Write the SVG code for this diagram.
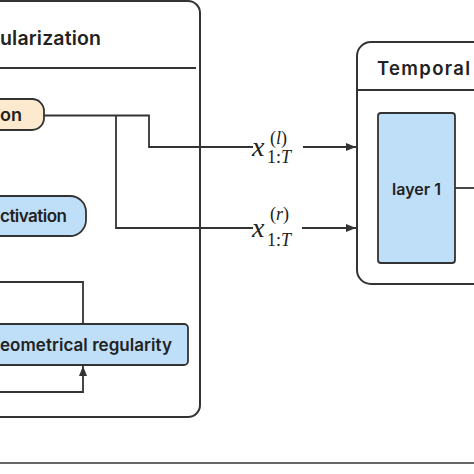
<svg xmlns="http://www.w3.org/2000/svg" width="474" height="474" viewBox="0 0 474 474">
<style>
.frame{fill:#fff;stroke:#333;stroke-width:2}
.div{stroke:#333;stroke-width:2;fill:none}
.orange{fill:#fde9cd;stroke:#333;stroke-width:1.8}
.blue{fill:#bfdff8;stroke:#333;stroke-width:1.8}
.conn{fill:none;stroke:#333;stroke-width:1.8}
.t{font-family:Inter,"Liberation Sans",sans-serif;fill:#222;font-weight:600}
.m{font-family:"Liberation Serif","DejaVu Serif",serif;fill:#222;font-size:18px}
.mi{font-style:italic}
.big{font-size:28px}
</style>
<defs>
<marker id="arr" viewBox="0 0 10 10" refX="10" refY="5" markerWidth="10" markerHeight="10" markerUnits="userSpaceOnUse" orient="auto">
<path d="M0,1 L10,5 L0,9 z" fill="#333"/>
</marker>
</defs>
<rect width="474" height="474" fill="#fff"/>
<g id="regularization-frame">
<rect class="frame" x="-30" y="1" width="230" height="416" rx="12"/>
<line class="div" x1="0" y1="68" x2="196" y2="68"/>
<text class="t" x="101" y="45" font-size="19.5" text-anchor="end" textLength="101">ularization</text>
</g>
<g id="node-on">
<rect class="orange" x="-30" y="99" width="74" height="31" rx="12"/>
<text class="t" x="0" y="121" font-size="18" textLength="22">on</text>
</g>
<g id="node-activation">
<rect class="blue" x="-30" y="196" width="116" height="40" rx="16"/>
<text class="t" x="0" y="222" font-size="17" textLength="67">ctivation</text>
</g>
<g id="node-geometrical">
<rect class="blue" x="-10" y="324" width="198" height="41" rx="4"/>
<text class="t" x="0" y="351" font-size="17" textLength="172">eometrical regularity</text>
</g>
<g id="temporal-frame">
<rect class="frame" x="357" y="42" width="150" height="242" rx="14"/>
<line class="div" x1="357" y1="90" x2="474" y2="90"/>
<text class="t" x="377" y="75" font-size="18.5" textLength="93">Temporal</text>
</g>
<g id="node-layer1">
<rect class="blue" x="378" y="113" width="77" height="150" rx="3"/>
<text class="t" x="416.5" y="195" font-size="16" text-anchor="middle">layer 1</text>
</g>
<g id="connectors">
<path class="conn" d="M44 115.5 H149 V147 H253"/>
<path class="conn" d="M303 147 H356" marker-end="url(#arr)"/>
<path class="conn" d="M116 115.5 V228 H253"/>
<path class="conn" d="M302 228 H356" marker-end="url(#arr)"/>
<path class="conn" d="M0 282 H83 V324"/>
<path class="conn" d="M0 392 H83 V366" marker-end="url(#arr)"/>
<path class="conn" d="M455 188 H474"/>
</g>
<g id="labels">
<text class="m"><tspan class="mi big" x="252" y="156">x</tspan><tspan x="270" y="144">(</tspan><tspan class="mi">l</tspan><tspan>)</tspan><tspan x="267" y="163">1:</tspan><tspan class="mi">T</tspan></text>
<text class="m"><tspan class="mi big" x="252" y="237">x</tspan><tspan x="270" y="220">(</tspan><tspan class="mi">r</tspan><tspan>)</tspan><tspan x="267" y="246">1:</tspan><tspan class="mi">T</tspan></text>
</g>
<line x1="0" y1="463" x2="474" y2="463" stroke="#666" stroke-width="2"/>
</svg>
